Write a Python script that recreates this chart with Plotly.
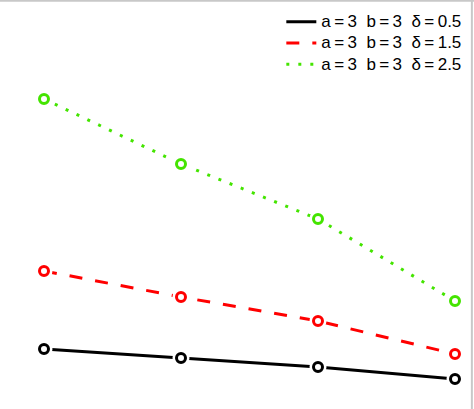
import plotly.graph_objects as go

x_vals = [1, 2, 3, 4]
black_vals = [60, 51, 42, 30]
red_vals = [138, 112, 88, 55]
green_vals = [310, 245, 190, 108]
deltas = ["0.5", "1.5", "2.5"]

def label(d):
    t = "\u2009=\u2009"
    return f'<span style="font-size:17px">a{t}3  b{t}3  δ{t}{d}</span>'

series = [
    (black_vals, "black", "solid", label(deltas[0])),
    (red_vals, "#ff0000", "13px,13px", label(deltas[1])),
    (green_vals, "#44e400", "3px,9px", label(deltas[2])),
]

fig = go.Figure()
for vals, col, dash, name in series:
    fig.add_trace(go.Scatter(x=x_vals, y=vals, mode="lines", name=name,
                             line=dict(color=col, width=3, dash=dash)))
for vals, col, dash, name in series:
    fig.add_trace(go.Scatter(x=x_vals, y=vals, mode="markers", showlegend=False,
                             marker=dict(symbol="circle", size=17, color="white",
                                         line=dict(width=0))))
    fig.add_trace(go.Scatter(x=x_vals, y=vals, mode="markers", showlegend=False,
                             marker=dict(symbol="circle-open", size=9, color=col,
                                         line=dict(width=3, color=col))))

fig.update_layout(
    width=474, height=409,
    margin=dict(l=0, r=0, t=0, b=0),
    plot_bgcolor="white", paper_bgcolor="white",
    font=dict(family="Liberation Sans, Arial, sans-serif", size=14, color="black"),
    xaxis=dict(range=[1 - 44 / 137, 1 + 430 / 137], visible=False),
    yaxis=dict(range=[0, 409], visible=False),
    legend=dict(x=0.5935, y=0.985, xanchor="left", yanchor="top",
                bgcolor="rgba(0,0,0,0)", tracegroupgap=0,
                font=dict(size=14)),
    shapes=[
        dict(type="line", xref="paper", yref="paper", x0=0, x1=1, y0=0.998, y1=0.998,
             line=dict(color="#c8c8c8", width=2)),
        dict(type="line", xref="paper", yref="paper", x0=0.9955, x1=0.9955, y0=0, y1=1,
             line=dict(color="#c8c8c8", width=2)),
    ],
)

fig.write_html("out.html", config={"displayModeBar": False},
               post_script="document.body.style.margin='0';document.body.style.overflow='hidden';")
